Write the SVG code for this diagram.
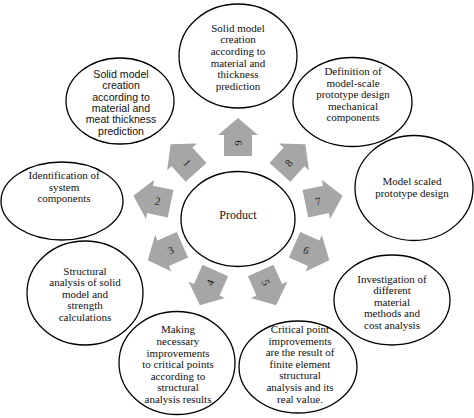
<svg xmlns="http://www.w3.org/2000/svg" width="474" height="418" viewBox="0 0 474 418">
<style>
.node ellipse{fill:#fff;stroke:#000;stroke-width:1.3}
.t{font-family:"Liberation Serif","Times New Roman",serif;font-size:11px;fill:#111;text-anchor:middle}
.s{font-family:"Liberation Sans",Arial,sans-serif;font-size:10.6px;fill:#111;text-anchor:middle}
.arr{fill:#a6a6a6}
.num{font-family:"Liberation Serif","Times New Roman",serif;font-size:11px;fill:#222;text-anchor:middle;dominant-baseline:central}
</style>
<defs>
<path id="ar" d="M20,0 L3,-20 L3,-14 L-18,-14 L-18,14 L3,14 L3,20 Z"/>
</defs>
<rect width="474" height="418" fill="#fff"/>
<g id="connectors">
<use href="#ar" class="arr" transform="translate(238,138) rotate(-90)"/>
<use href="#ar" class="arr" transform="translate(292,159) rotate(-48)"/>
<use href="#ar" class="arr" transform="translate(323,200) rotate(-12)"/>
<use href="#ar" class="arr" transform="translate(311,252) rotate(24)"/>
<use href="#ar" class="arr" transform="translate(268,287) rotate(66)"/>
<use href="#ar" class="arr" transform="translate(208,287) rotate(114)"/>
<use href="#ar" class="arr" transform="translate(166,252) rotate(156)"/>
<use href="#ar" class="arr" transform="translate(153,200) rotate(192)"/>
<use href="#ar" class="arr" transform="translate(184,159) rotate(228)"/>
<text class="num" x="238" y="143" transform="rotate(-90,238,143)">9</text>
<text class="num" x="288.7" y="162.7" transform="rotate(-48,288.7,162.7)">8</text>
<text class="num" x="318.1" y="201" transform="rotate(-12,318.1,201)">7</text>
<text class="num" x="306.4" y="250" transform="rotate(24,306.4,250)">6</text>
<text class="num" x="266" y="282.4" transform="rotate(66,266,282.4)">5</text>
<text class="num" x="210" y="282.4" transform="rotate(-66,210,282.4)">4</text>
<text class="num" x="170.6" y="250" transform="rotate(-24,170.6,250)">3</text>
<text class="num" x="157.9" y="201" transform="rotate(12,157.9,201)">2</text>
<text class="num" x="187.3" y="162.7" transform="rotate(48,187.3,162.7)">1</text>
</g>
<g id="product" class="node">
<ellipse cx="238" cy="219" rx="57" ry="47.5"/>
<text class="t" x="238" y="219" style="font-size:12px">Product</text>
</g>
<g id="n9" class="node">
<ellipse cx="238" cy="56" rx="59" ry="52"/>
<text class="t"><tspan x="238" y="31.7">Solid model</tspan><tspan x="238" dy="11.6">creation</tspan><tspan x="238" dy="11.6">according to</tspan><tspan x="238" dy="11.6">material and</tspan><tspan x="238" dy="11.6">thickness</tspan><tspan x="238" dy="11.6">prediction</tspan></text>
</g>
<g id="n1" class="node">
<ellipse cx="120" cy="101" rx="54" ry="43"/>
<text class="s"><tspan x="121" y="77.7">Solid model</tspan><tspan x="121" dy="11.4">creation</tspan><tspan x="121" dy="11.4">according to</tspan><tspan x="121" dy="11.4">material and</tspan><tspan x="121" dy="11.4">meat thickness</tspan><tspan x="121" dy="11.4">prediction</tspan></text>
</g>
<g id="n8" class="node">
<ellipse cx="352.5" cy="102" rx="59.5" ry="44.5"/>
<text class="t"><tspan x="353" y="75">Definition of</tspan><tspan x="353" dy="11.6">model-scale</tspan><tspan x="353" dy="11.6">prototype design</tspan><tspan x="353" dy="11.6">mechanical</tspan><tspan x="353" dy="11.6">components</tspan></text>
</g>
<g id="n2" class="node">
<ellipse cx="62" cy="201" rx="61" ry="39"/>
<text class="t"><tspan x="64" y="179.1">Identification of</tspan><tspan x="64" dy="11.6">system</tspan><tspan x="64" dy="11.6">components</tspan></text>
</g>
<g id="n7" class="node">
<ellipse cx="414" cy="188" rx="59" ry="52.5"/>
<text class="t"><tspan x="412" y="185.4">Model scaled</tspan><tspan x="412" dy="11.6">prototype design</tspan></text>
</g>
<g id="n3" class="node">
<ellipse cx="85" cy="293" rx="58" ry="52"/>
<text class="t"><tspan x="85" y="274.5">Structural</tspan><tspan x="85" dy="11.6">analysis of solid</tspan><tspan x="85" dy="11.6">model and</tspan><tspan x="85" dy="11.6">strength</tspan><tspan x="85" dy="11.6">calculations</tspan></text>
</g>
<g id="n4" class="node">
<ellipse cx="177" cy="363" rx="58" ry="51.5"/>
<text class="t"><tspan x="178" y="333.4">Making</tspan><tspan x="178" dy="11.6">necessary</tspan><tspan x="178" dy="11.6">improvements</tspan><tspan x="178" dy="11.6">to critical points</tspan><tspan x="178" dy="11.6">according to</tspan><tspan x="178" dy="11.6">structural</tspan><tspan x="178" dy="11.6">analysis results</tspan></text>
</g>
<g id="n5" class="node">
<ellipse cx="298" cy="367" rx="59" ry="46"/>
<text class="t"><tspan x="300" y="332.9">Critical point</tspan><tspan x="300" dy="11.6">improvements</tspan><tspan x="300" dy="11.6">are the result of</tspan><tspan x="300" dy="11.6">finite element</tspan><tspan x="300" dy="11.6">structural</tspan><tspan x="300" dy="11.6">analysis and its</tspan><tspan x="300" dy="11.6">real value.</tspan></text>
</g>
<g id="n6" class="node">
<ellipse cx="392" cy="300" rx="58" ry="45"/>
<text class="t"><tspan x="392" y="282.5">Investigation of</tspan><tspan x="392" dy="11.6">different</tspan><tspan x="392" dy="11.6">material</tspan><tspan x="392" dy="11.6">methods and</tspan><tspan x="392" dy="11.6">cost analysis</tspan></text>
</g>
</svg>
